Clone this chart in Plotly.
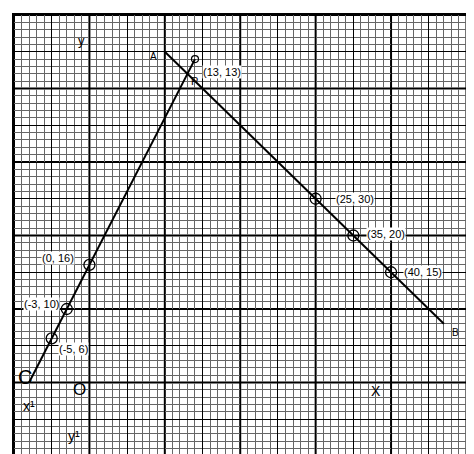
import plotly.graph_objects as go

# Line 1: y = 2x + 16 from C to top end
l1_x = [-8, 14]
l1_y = [0, 44]
# Line 2: x + y = 55 from A to B
l2_x = [10, 47]
l2_y = [45, 8]
# plotted points and their printed labels
pt_x = [-5, -3, 0, 30, 35, 40]
pt_y = [6, 10, 16, 25, 20, 15]
pt_lab = ["(-5, 6)", "(-3, 10)", "(0, 16)", "(25, 30)", "(35, 20)", "(40, 15)"]
lab_x = [-2.1, -6.3, -4.2, 35.2, 39.3, 44.2]
lab_y = [4.6, 10.7, 17.0, 25.0, 20.2, 15.0]

fig = go.Figure()
fig.add_trace(go.Scatter(x=l1_x, y=l1_y, mode="lines", line=dict(color="black", width=2)))
fig.add_trace(go.Scatter(x=[l1_x[1]], y=[l1_y[1]], mode="markers",
                         marker=dict(symbol="circle-open", size=7, color="black", line=dict(width=1.2))))
fig.add_trace(go.Scatter(x=l2_x, y=l2_y, mode="lines", line=dict(color="black", width=2)))
fig.add_trace(go.Scatter(x=pt_x, y=pt_y, mode="markers",
                         marker=dict(symbol="circle-open", size=11, color="black", line=dict(width=1.3))))

for x, y, t in zip(lab_x, lab_y, pt_lab):
    fig.add_annotation(x=x, y=y, text=t, showarrow=False, bgcolor="white", borderpad=0,
                       font=dict(size=11, color="black", family="Liberation Sans"))

shapes = []
for v in range(-10, 51, 10):
    shapes.append(dict(type="line", x0=v, x1=v, y0=-10, y1=50, line=dict(color="black", width=2), layer="below"))
    shapes.append(dict(type="line", x0=-10, x1=51, y0=v, y1=v, line=dict(color="black", width=2), layer="below"))
fig.update_layout(shapes=shapes)

ann = [("y", -1, 46.5, 13), ("y¹", -2, -7.3, 14), ("X", 38, -1.2, 14), ("x¹", -8, -3.2, 14),
       ("O", -1.3, -0.9, 17), ("C", -8.6, 0.8, 20), ("A", 8.5, 44.3, 10), ("B", 48.6, 6.8, 10),
       ("P", 14.0, 41.0, 11), ("(13, 13)", 17.6, 42.3, 11)]
for t, x, y, s in ann:
    fig.add_annotation(x=x, y=y, text=t, showarrow=False, borderpad=0,
                       font=dict(size=s, color="black", family="Liberation Sans"),
                       bgcolor="white" if t.startswith("(") else None)

ax = dict(showline=True, linecolor="black", linewidth=2, mirror=True, zeroline=False,
          showticklabels=False, ticks="", showgrid=True, dtick=5, tick0=0,
          gridcolor="black", gridwidth=1.2,
          minor=dict(dtick=1, showgrid=True, gridcolor="#666", gridwidth=0.5))
fig.update_xaxes(range=[-10, 51], **ax)
fig.update_yaxes(range=[-10, 50], **ax)
fig.update_layout(width=474, height=454, margin=dict(l=6, r=8, t=5, b=6),
                  plot_bgcolor="white", paper_bgcolor="white", showlegend=False)
fig.write_html("out.html")
